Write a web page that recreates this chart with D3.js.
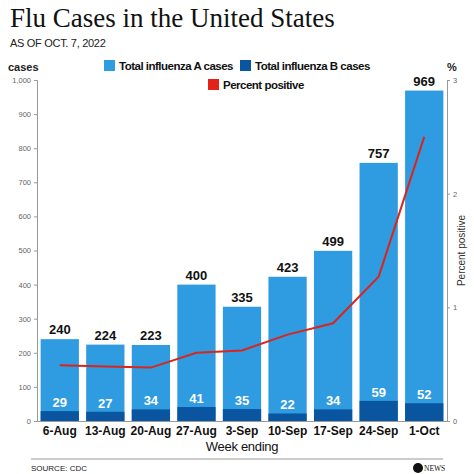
<!DOCTYPE html>
<html>
<head>
<script src="https://cdn.jsdelivr.net/npm/d3@7"></script>
<style>
body { margin: 0; background: #fff; }
text { font-family: "Liberation Sans", Arial, sans-serif; }
</style>
</head>
<body>
<div id="chart"></div>
<script>
const weeks = ["6-Aug", "13-Aug", "20-Aug", "27-Aug", "3-Sep", "10-Sep", "17-Sep", "24-Sep", "1-Oct"];
const totalCases = [240, 224, 223, 400, 335, 423, 499, 757, 969];
const bCases = [29, 27, 34, 41, 35, 22, 34, 59, 52];
const percentPositive = [0.49, 0.48, 0.47, 0.60, 0.62, 0.76, 0.86, 1.27, 2.50];
const leftTicks = [0, 100, 200, 300, 400, 500, 600, 700, 800, 900, 1000];

const W = 474, H = 474;
const margin = { top: 80, right: 27, bottom: 53, left: 37 };
const width = W - margin.left - margin.right;
const height = H - margin.top - margin.bottom;

const svg = d3.select("#chart").append("svg").attr("width", W).attr("height", H);

svg.append("text").attr("x", 10).attr("y", 27).text("Flu Cases in the United States")
  .style("font-family", "'Liberation Serif', serif").attr("font-size", 27).attr("fill", "#111");
svg.append("text").attr("x", 10).attr("y", 47).text("AS OF OCT. 7, 2022")
  .attr("font-size", 11).attr("fill", "#222").attr("letter-spacing", "-0.3");

const g = svg.append("g").attr("transform", `translate(${margin.left},${margin.top})`);

const x = d3.scaleBand().domain(weeks).range([0, width]).paddingInner(0.16).paddingOuter(0.08);
const y = d3.scaleLinear().domain([0, 1000]).range([height, 0]);
const y2 = d3.scaleLinear().domain([0, 3]).range([height, 0]);

// bars
g.selectAll(".tot").data(weeks).enter().append("rect")
  .attr("x", d => x(d)).attr("width", x.bandwidth())
  .attr("y", (d, i) => y(totalCases[i])).attr("height", (d, i) => height - y(totalCases[i]))
  .attr("fill", "#2f9be0");
g.selectAll(".b").data(weeks).enter().append("rect")
  .attr("x", d => x(d)).attr("width", x.bandwidth())
  .attr("y", (d, i) => y(bCases[i])).attr("height", (d, i) => height - y(bCases[i]))
  .attr("fill", "#0a55a0");

g.selectAll(".tl").data(weeks).enter().append("text")
  .attr("x", d => x(d) + x.bandwidth() / 2).attr("y", (d, i) => y(totalCases[i]) - 5)
  .attr("text-anchor", "middle").attr("font-size", 13).attr("font-weight", "bold").attr("fill", "#111")
  .text((d, i) => totalCases[i]);
g.selectAll(".bl").data(weeks).enter().append("text")
  .attr("x", d => x(d) + x.bandwidth() / 2).attr("y", (d, i) => y(bCases[i]) - 4)
  .attr("text-anchor", "middle").attr("font-size", 13).attr("font-weight", "bold").attr("fill", "#fff")
  .text((d, i) => bCases[i]);

// line
g.append("path").datum(weeks)
  .attr("fill", "none").attr("stroke", "#d9251c").attr("stroke-width", 2)
  .attr("d", d3.line().x(d => x(d) + x.bandwidth() / 2).y((d, i) => y2(percentPositive[i])));

// axes
const yAxis = g.append("g").call(d3.axisLeft(y).tickValues(leftTicks).tickSize(3).tickFormat(d3.format(",")));
yAxis.selectAll("text").attr("font-size", 7.5).attr("fill", "#666");
yAxis.selectAll("line,path").attr("stroke", "#999");
const y2Axis = g.append("g").attr("transform", `translate(${width},0)`)
  .call(d3.axisRight(y2).tickValues([0, 1, 2, 3]).tickSize(3).tickFormat(d3.format("d")));
y2Axis.selectAll("text").attr("font-size", 7.5).attr("fill", "#666");
y2Axis.selectAll("line,path").attr("stroke", "#999");

const xAxis = g.append("g").attr("transform", `translate(0,${height})`).call(d3.axisBottom(x).tickSize(0));
xAxis.select(".domain").attr("stroke", "#999");
xAxis.selectAll("text").attr("font-size", 12).attr("font-weight", "bold").attr("fill", "#111").attr("dy", "0.9em");

g.append("text").attr("x", width / 2).attr("y", height + 30).attr("text-anchor", "middle")
  .attr("font-size", 13).attr("fill", "#111").attr("letter-spacing", "-0.3").text("Week ending");
svg.append("text").attr("x", 8).attr("y", 71).attr("font-size", 11).attr("font-weight", "bold").attr("fill", "#222").text("cases");
svg.append("text").attr("x", 447).attr("y", 71).attr("font-size", 11).attr("font-weight", "bold").attr("fill", "#222").text("%");
svg.append("text").attr("transform", `translate(465,${margin.top + height / 2}) rotate(-90)`)
  .attr("text-anchor", "middle").attr("font-size", 10).attr("fill", "#333").text("Percent positive");

// legend
const legend = [
  { label: "Total influenza A cases", color: "#2f9be0", x: 104, y: 67 },
  { label: "Total influenza B cases", color: "#0a55a0", x: 240, y: 67 },
  { label: "Percent positive", color: "#e32219", x: 208, y: 86 }
];
const lg = svg.selectAll(".lg").data(legend).enter().append("g");
lg.append("rect").attr("x", d => d.x).attr("y", d => d.y - 7).attr("width", 11).attr("height", 11).attr("fill", d => d.color);
lg.append("text").attr("x", d => d.x + 15).attr("y", d => d.y + 3).attr("font-size", 11.5).attr("font-weight", "bold")
  .attr("fill", "#111").attr("letter-spacing", "-0.5").text(d => d.label);

// footer
svg.append("line").attr("x1", 31).attr("x2", 443).attr("y1", 459).attr("y2", 459).attr("stroke", "#999");
svg.append("text").attr("x", 31).attr("y", 471).attr("font-size", 8).attr("fill", "#222").text("SOURCE: CDC");
svg.append("circle").attr("cx", 418).attr("cy", 468).attr("r", 5).attr("fill", "#111");
svg.append("text").attr("x", 424).attr("y", 471).attr("font-size", 7.5).style("font-family", "'Liberation Serif', serif").attr("fill", "#111").text("NEWS");
</script>
</body>
</html>
